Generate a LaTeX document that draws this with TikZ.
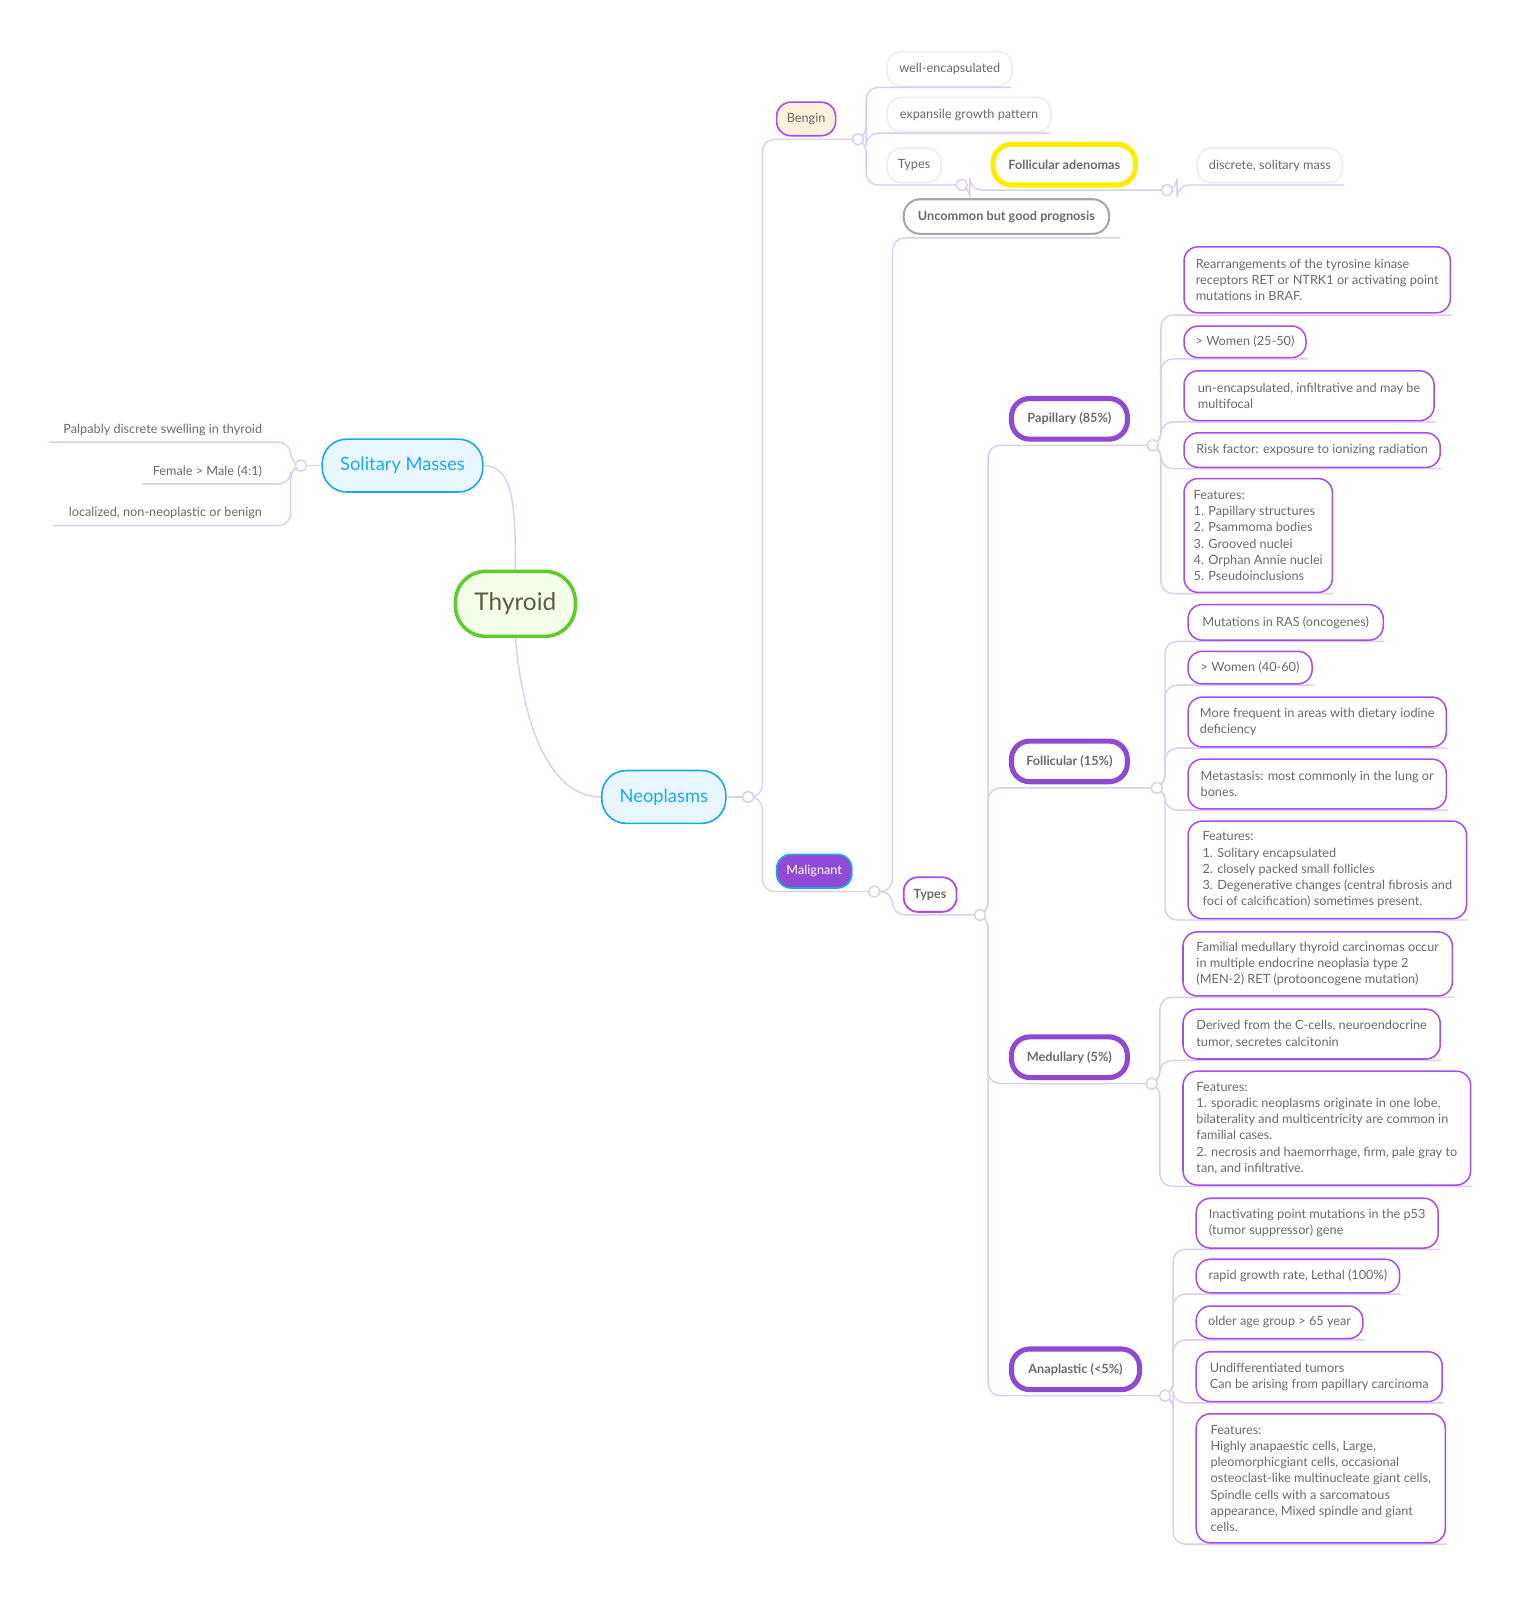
\documentclass[tikz,border=0pt]{standalone}
\usepackage{fontspec}
\setmainfont{Lato}
\definecolor{conn}{HTML}{DCCCF0}
\definecolor{purp}{HTML}{A64DF2}
\definecolor{dpurp}{HTML}{8E4AD2}
\definecolor{txt}{HTML}{6A6A6A}
\definecolor{blu}{HTML}{1CA8F0}
\definecolor{blufill}{HTML}{E8F7FF}
\definecolor{grn}{HTML}{5FCB2F}
\definecolor{grnfill}{HTML}{F4FFEA}
\definecolor{pale}{HTML}{EDEDED}
\tikzset{
  cn/.style={draw=conn,line width=1.4pt,rounded corners=12pt},
  leaf/.style={draw=purp,line width=1.5pt,rounded corners=14pt,fill=white,text=txt,
     font=\fontsize{12.5}{16}\selectfont,align=left,inner xsep=8pt,inner ysep=4pt},
  paleleaf/.style={leaf,draw=pale},
  plain/.style={text=txt,font=\fontsize{12.5}{16}\selectfont,inner sep=2pt},
  typ/.style={draw=dpurp,line width=5pt,rounded corners=18pt,fill=white,text=txt,
     font=\fontsize{12.5}{16}\selectfont\bfseries,minimum height=40pt,inner xsep=10pt},
  jn/.style={circle,draw=conn,line width=1.4pt,fill=white,minimum size=11pt,inner sep=0pt},
}
\newcommand\lbox[7][leaf]{\node[#1,anchor=north west,minimum width=\dimexpr #5pt-#3pt\relax,
  minimum height=\dimexpr #6pt-#4pt\relax] (#2) at (#3,#4) {#7};}
\begin{document}
\begin{tikzpicture}[x=1pt,y=-1pt]
\useasboundingbox[fill=white] (0,0) rectangle (1500,1572);
% junction coordinates
\coordinate (JS) at (296,458);
\coordinate (JN) at (736,784);
\coordinate (JB) at (844,137);
\coordinate (JBT) at (946,182);
\coordinate (JFA) at (1148,187);
\coordinate (JM) at (860,877);
\coordinate (JT) at (964,900);
\coordinate (JP) at (1134,438);
\coordinate (JF) at (1138,775);
\coordinate (JD) at (1133,1066);
\coordinate (JA) at (1146,1373);
% main nodes
\node[draw=grn,line width=3.5pt,fill=grnfill,rounded corners=30pt,minimum width=118pt,minimum height=64pt,
  text=black!55!olive!80!gray,font=\fontsize{24}{28}\selectfont] (thy) at (507,594) {Thyroid};
\node[draw=blu,line width=1.6pt,fill=blufill,rounded corners=24pt,minimum width=158pt,minimum height=52pt,
  text=blu,font=\fontsize{18}{22}\selectfont] (sol) at (396,458) {Solitary Masses};
\node[draw=blu,line width=1.6pt,fill=blufill,rounded corners=24pt,minimum width=122pt,minimum height=52pt,
  text=blu,font=\fontsize{18}{22}\selectfont] (neo) at (653,784) {Neoplasms};
% connectors main
\draw[cn] (thy.north) .. controls +(0,-60) and +(30,0) .. (sol.east);
\draw[cn] (thy.south) .. controls +(10,110) and +(-40,0) .. (neo.west);
\draw[cn] (sol.west) -- (JS);
\draw[cn] (neo.east) -- (JN);
% solitary leaves
\node[plain,anchor=south east] (s1) at (260,431) {Palpably discrete swelling in thyroid};
\node[plain,anchor=south east] (s2) at (260,472) {Female > Male (4:1)};
\node[plain,anchor=south east] (s3) at (260,513) {localized, non-neoplastic or benign};
\draw[cn] (JS) -- ++(-10,0) |- (48,435);
\draw[cn] (JS) -- ++(-10,0) |- (140,476);
\draw[cn] (JS) -- ++(-10,0) |- (52,517);
% neoplasms branches
\draw[cn] (JN) -- ++(14,0) |- (JB);
\draw[cn] (JN) -- ++(14,0) |- (JM);
\node[draw=purp,line width=1.6pt,fill=yellow!20!orange!12,rounded corners=14pt,minimum width=58pt,minimum height=33pt,
  text=txt,font=\fontsize{12.5}{16}\selectfont] (ben) at (793,117) {Bengin};
\node[draw=blu,line width=1.6pt,fill=dpurp!90!purp,rounded corners=14pt,minimum width=74pt,minimum height=33pt,
  text=white,font=\fontsize{12.5}{16}\selectfont] (mal) at (801,857) {Malignant};
% benign
\lbox[paleleaf]{b1}{872}{50}{995}{84}{well-encapsulated}
\lbox[paleleaf]{b2}{872}{95}{1033}{129}{expansile growth pattern}
\lbox[paleleaf]{b3}{872}{145}{925}{179}{Types}
\draw[cn] (JB) -- ++(8,0) |- (995,86);
\draw[cn] (JB) -- ++(8,0) |- (1033,131);
\draw[cn] (JB) -- ++(8,0) |- (JBT);
\draw[cn] (JBT) -- ++(8,0) |- (JFA);
\node[draw=yellow!95!orange,line width=5pt,fill=white,rounded corners=18pt,minimum width=140pt,minimum height=40pt,
  text=txt,font=\fontsize{12.5}{16}\selectfont\bfseries] (fa) at (1047,162) {Follicular adenomas};
\draw[cn] (JFA) -- ++(10,0) |- (1322,182);
\lbox[paleleaf]{b4}{1177}{145}{1320}{179}{discrete, solitary mass}
% malignant
\draw[cn] (JM) -- ++(18,0) |- (1102,234);
\draw[cn] (JM) -- ++(18,0) |- (JT);
\node[draw=gray!70,line width=2pt,fill=white,rounded corners=16pt,minimum width=202pt,minimum height=34pt,
  text=txt,font=\fontsize{12.5}{16}\selectfont\bfseries] (unc) at (990,213) {Uncommon but good prognosis};
\node[draw=purp,line width=1.8pt,fill=white,rounded corners=14pt,minimum width=52pt,minimum height=34pt,
  text=txt,font=\fontsize{12.5}{16}\selectfont\bfseries] (typ) at (915,880) {Types};
\foreach \j in {JP,JF,JD,JA} \draw[cn] (JT) -- ++(8,0) |- (\j);
\node[typ,minimum width=114pt] (pap) at (1052,412) {Papillary (85\%)};
\node[typ,minimum width=114pt] (fol) at (1052,749) {Follicular (15\%)};
\node[typ,minimum width=114pt] (med) at (1052,1040) {Medullary (5\%)};
\node[typ,minimum width=126pt] (ana) at (1058,1347) {Anaplastic (<5\%)};
% papillary children
\foreach \y/\x in {310/1428,353/1286,415/1412,461/1418,584/1312} \draw[cn] (JP) -- ++(8,0) |- (\x,\y);
\lbox{p1}{1164}{242}{1426}{307}{Rearrangements of the tyrosine kinase\\receptors RET or NTRK1 or activating point\\mutations in BRAF.}
\lbox{p2}{1164}{320}{1284}{351}{> Women (25-50)}
\lbox{p3}{1164}{364}{1410}{413}{un-encapsulated, infiltrative and may be\\multifocal}
\lbox{p4}{1164}{425}{1416}{459}{Risk factor: exposure to ionizing radiation}
\lbox{p5}{1164}{470}{1310}{582}{Features:\\1. Papillary structures\\2. Psammoma bodies\\3. Grooved nuclei\\4. Orphan Annie nuclei\\5. Pseudoinclusions}
% follicular children
\foreach \y/\x in {631/1362,674/1292,736/1424,797/1424,905/1444} \draw[cn] (JF) -- ++(8,0) |- (\x,\y);
\lbox{f1}{1168}{594}{1360}{629}{Mutations in RAS (oncogenes)}
\lbox{f2}{1168}{640}{1290}{672}{> Women (40-60)}
\lbox{f3}{1168}{685}{1422}{734}{More frequent in areas with dietary iodine\\deficiency}
\lbox{f4}{1168}{746}{1422}{795}{Metastasis: most commonly in the lung or\\bones.}
\lbox{f5}{1168}{807}{1442}{903}{Features:\\1. Solitary encapsulated\\2. closely packed small follicles\\3. Degenerative changes (central fibrosis and\\foci of calcification) sometimes present.}
% medullary children
\foreach \y/\x in {981/1430,1043/1418,1167/1448} \draw[cn] (JD) -- ++(8,0) |- (\x,\y);
\lbox{m1}{1163}{916}{1428}{979}{Familial medullary thyroid carcinomas occur\\in multiple endocrine neoplasia type 2\\(MEN-2) RET (protooncogene mutation)}
\lbox{m2}{1163}{992}{1416}{1041}{Derived from the C-cells, neuroendocrine\\tumor, secretes calcitonin}
\lbox{m3}{1163}{1053}{1446}{1165}{Features:\\1. sporadic neoplasms originate in one lobe,\\bilaterality and multicentricity are common in\\familial cases.\\2. necrosis and haemorrhage, firm, pale gray to\\tan, and infiltrative.}
% anaplastic children
\foreach \y/\x in {1229/1416,1273/1378,1318/1342,1380/1420,1519/1423} \draw[cn] (JA) -- ++(8,0) |- (\x,\y);
\lbox{a1}{1176}{1178}{1414}{1227}{Inactivating point mutations in the p53\\(tumor suppressor) gene}
\lbox{a2}{1176}{1238}{1376}{1271}{rapid growth rate, Lethal (100\%)}
\lbox{a3}{1176}{1284}{1340}{1316}{older age group > 65 year}
\lbox{a4}{1176}{1329}{1418}{1378}{Undifferentiated tumors\\Can be arising from papillary carcinoma}
\lbox{a5}{1176}{1390}{1421}{1517}{Features:\\Highly anapaestic cells, Large,\\pleomorphicgiant cells, occasional\\osteoclast-like multinucleate giant cells,\\Spindle cells with a sarcomatous\\appearance, Mixed spindle and giant\\cells.}
% junction circles
\foreach \j in {JS,JN,JB,JBT,JFA,JM,JT,JP,JF,JD,JA} \node[jn] at (\j) {};
\end{tikzpicture}
\end{document}
